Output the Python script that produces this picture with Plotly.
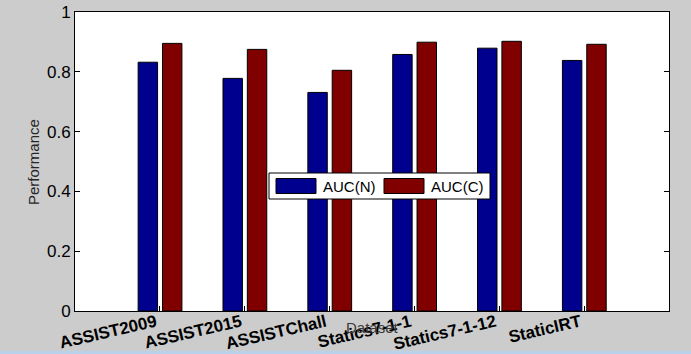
import plotly.graph_objects as go

categories = ["ASSIST2009", "ASSIST2015", "ASSISTChall", "Statics7-1-1", "Statics7-1-12", "StaticIRT"]
auc_n = [0.832, 0.778, 0.731, 0.858, 0.879, 0.838]
auc_c = [0.895, 0.875, 0.805, 0.899, 0.902, 0.892]
y_ticks = [0, 0.2, 0.4, 0.6, 0.8, 1]
y_ticktext = ["0", "0.2", "0.4", "0.6", "0.8", "1"]

positions = list(range(1, len(categories) + 1))
BLUE = "#00008f"
RED = "#800000"
FONT = "Liberation Sans, Arial, sans-serif"

W, H = 691, 354
L, R, T, B = 75, 22, 12, 43
pw = W - L - R
ph = H - T - B

def px(x):
    return (x - L) / pw

def py(y):
    return (H - B - y) / ph

fig = go.Figure()
fig.add_trace(go.Bar(x=positions, y=auc_n, name="AUC(N)", offset=-0.256, width=0.229,
                     marker=dict(color=BLUE, line=dict(color="black", width=1)), showlegend=False))
fig.add_trace(go.Bar(x=positions, y=auc_c, name="AUC(C)", offset=0.031, width=0.229,
                     marker=dict(color=RED, line=dict(color="black", width=1)), showlegend=False))

shapes = []
annotations = []
# legend box
shapes.append(dict(type="rect", xref="paper", yref="paper", x0=px(269), x1=px(490), y0=py(199), y1=py(173),
                   fillcolor="white", line=dict(color="black", width=1), layer="above"))
for (x0, x1, col, label, tx) in [(276, 316, BLUE, "AUC(N)", 321), (384, 424, RED, "AUC(C)", 429)]:
    shapes.append(dict(type="rect", xref="paper", yref="paper", x0=px(x0), x1=px(x1), y0=py(193.5), y1=py(178.5),
                       fillcolor=col, line=dict(color="black", width=1), layer="above"))
    annotations.append(dict(xref="paper", yref="paper", x=px(tx), y=py(186), text=label, showarrow=False,
                            xanchor="left", yanchor="middle", font=dict(family=FONT, size=15, color="black")))
# window bottom border
shapes.append(dict(type="rect", xref="paper", yref="paper", x0=px(0), x1=px(W), y0=py(354), y1=py(351),
                   fillcolor="#b9d1ea", line=dict(width=0), layer="below"))

annotations.append(dict(xref="paper", yref="paper", x=px(372), y=py(327), text="Dataset", showarrow=False,
                        xanchor="center", yanchor="middle", font=dict(family=FONT, size=15, color="#3a3a3a")))
annotations.append(dict(xref="paper", yref="paper", x=px(33), y=py(162), text="Performance", showarrow=False,
                        textangle=-90, xanchor="center", yanchor="middle",
                        font=dict(family=FONT, size=15, color="#262626")))

fig.update_layout(
    width=W, height=H,
    margin=dict(l=L, r=R, t=T, b=B, pad=0, autoexpand=False),
    paper_bgcolor="#cccccc", plot_bgcolor="white",
    shapes=shapes, annotations=annotations,
    font=dict(family=FONT, color="black"),
    xaxis=dict(range=[0, 7], tickvals=positions, ticktext=categories, tickangle=-13, automargin=False,
               tickfont=dict(family=FONT, size=17, color="black", weight="bold"),
               ticklabelstandoff=-6, ticklabelshift=-4,
               ticks="inside", ticklen=5, tickcolor="black", showline=True, linecolor="black",
               linewidth=1, mirror=True, showgrid=False, zeroline=False),
    yaxis=dict(range=[0, 1], tickvals=y_ticks, ticktext=y_ticktext, automargin=False,
               tickfont=dict(family=FONT, size=17, color="black"),
               ticks="inside", ticklen=5, tickcolor="black", showline=True, linecolor="black",
               linewidth=1, mirror="ticks", showgrid=False, zeroline=False),
)

fig.write_html("out.html")
